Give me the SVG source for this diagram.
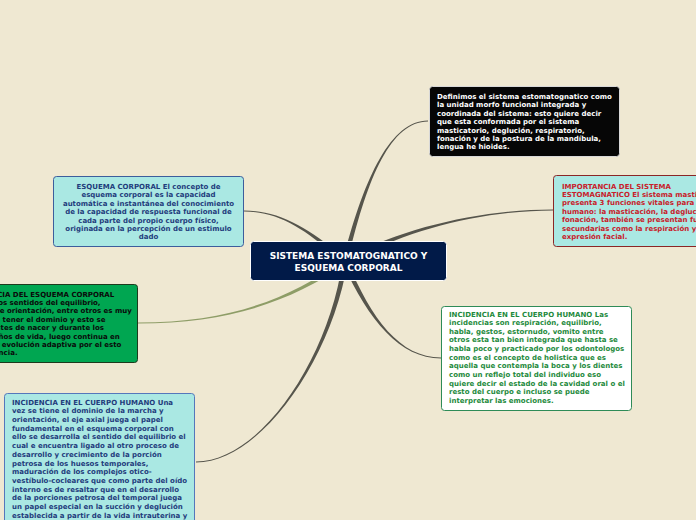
<svg xmlns="http://www.w3.org/2000/svg" width="696" height="520" viewBox="0 0 696 520">
<style>
.t{font-family:"DejaVu Sans",Verdana,sans-serif;font-weight:bold;font-size:7px}
.c{text-anchor:middle}
.con{fill:#56554c}
.cong{fill:#8e9d67}
.cy{fill:#aae8e3}
</style>
<rect x="0" y="0" width="696" height="520" fill="#efe8d2"/>
<g id="connectors">
<path class="con" d="M347.4,262.6 C366.5,180.4 390,121.5 428,121.5 L428,120.5 C390,120.5 363.5,179.6 342.6,261.4 Z"/>
<path class="con" d="M346.7,260.2 C311,228.9 280,210.5 244,210.5 L244,211.5 C280,211.5 309,231.1 343.3,263.8 Z"/>
<path class="con" d="M346.3,264.2 C400.8,231.3 480,210.5 553,210.5 L553,209.5 C480,209.5 399.2,228.7 343.7,259.8 Z"/>
<path class="cong" d="M343.6,259.9 C289.1,298.8 230,322.5 138,322.5 L138,323.5 C230,323.5 290.9,301.2 346.4,264.1 Z"/>
<path class="con" d="M342.5,261.6 C328.5,359.8 260,461.5 196,461.5 L196,462.5 C260,462.5 331.5,360.2 347.5,262.4 Z"/>
<path class="con" d="M342.7,263 C368.6,320.6 400,358.5 441,358.5 L441,357.5 C400,357.5 371.4,319.4 347.3,261 Z"/>
</g>
<g id="center">
<rect x="250.5" y="241.5" width="196" height="39" rx="3" fill="#011a48" stroke="#ffffff" stroke-width="1"/>
<text class="t c" fill="#ffffff" style="font-size:9px"><tspan x="348.5" y="259">SISTEMA ESTOMATOGNATICO Y</tspan><tspan x="348.5" y="270.5">ESQUEMA CORPORAL</tspan></text>
</g>
<g id="definicion">
<rect x="429.5" y="86.5" width="190" height="70" rx="3" fill="#060606" stroke="#d8d8d8" stroke-width="1"/>
<text class="t" fill="#ffffff"><tspan x="437" y="99">Definimos el sistema estomatognatico como</tspan><tspan x="437" dy="8.4">la unidad morfo funcional integrada y</tspan><tspan x="437" dy="8.4">coordinada del sistema: esto quiere decir</tspan><tspan x="437" dy="8.4">que esta conformada por el sistema</tspan><tspan x="437" dy="8.4">masticatorio, deglución, respiratorio,</tspan><tspan x="437" dy="8.4">fonación y de la postura de la mandíbula,</tspan><tspan x="437" dy="8.4">lengua he hioides.</tspan></text>
</g>
<g id="esquema">
<rect x="53.5" y="176.5" width="190" height="70" rx="3" class="cy" stroke="#3d5d9c" stroke-width="1"/>
<text class="t c" fill="#1f3c7c"><tspan x="148.5" y="189">ESQUEMA CORPORAL El concepto de</tspan><tspan x="148.5" dy="8.4">esquema corporal es la capacidad</tspan><tspan x="148.5" dy="8.4">automática e instantánea del conocimiento</tspan><tspan x="148.5" dy="8.4">de la capacidad de respuesta funcional de</tspan><tspan x="148.5" dy="8.4">cada parte del propio cuerpo físico,</tspan><tspan x="148.5" dy="8.4">originada en la percepción de un estimulo</tspan><tspan x="148.5" dy="8.4">dado</tspan></text>
</g>
<g id="importancia-sistema">
<rect x="553.5" y="175.5" width="190" height="71" rx="3" class="cy" stroke="#8b2626" stroke-width="1"/>
<text class="t" fill="#c8202a"><tspan x="562" y="188.5">IMPORTANCIA DEL SISTEMA</tspan><tspan x="562" dy="8.4">ESTOMAGNATICO El sistema masticatorio</tspan><tspan x="562" dy="8.4">presenta 3 funciones vitales para el ser</tspan><tspan x="562" dy="8.4">humano: la masticación, la deglución y la</tspan><tspan x="562" dy="8.4">fonación, también se presentan funciones</tspan><tspan x="562" dy="8.4">secundarias como la respiración y la</tspan><tspan x="562" dy="8.4">expresión facial.</tspan></text>
</g>
<g id="importancia-esquema">
<rect x="-52.5" y="284.5" width="190" height="78" rx="3" fill="#00a651" stroke="#1d3a1d" stroke-width="1"/>
<text class="t" fill="#0a0a0a"><tspan x="-44" y="296.5">IMPORTANCIA DEL ESQUEMA CORPORAL</tspan><tspan x="-46" dy="8.4">Dentro de los sentidos del equilibrio,</tspan><tspan x="-44" dy="8.4">marcha y de orientación, entre otros es muy</tspan><tspan x="-44" dy="8.4">importante tener el dominio y esto se</tspan><tspan x="-44" dy="8.4">se inicia antes de nacer y durante los</tspan><tspan x="-44" dy="8.4">primeros años de vida, luego continua en</tspan><tspan x="-44" dy="8.4">proceso de evolución adaptiva por el esto</tspan><tspan x="-44" dy="8.4">su importancia.</tspan></text>
</g>
<g id="incidencia-cuerpo">
<rect x="441.5" y="306.5" width="190" height="104" rx="3" fill="#ffffff" stroke="#2e8b57" stroke-width="1"/>
<text class="t" fill="#1e8a3c"><tspan x="449" y="316.5">INCIDENCIA EN EL CUERPO HUMANO Las</tspan><tspan x="449" dy="8.65">incidencias son respiración, equilibrio,</tspan><tspan x="449" dy="8.65">habla, gestos, estornudo, vomito entre</tspan><tspan x="449" dy="8.65">otros esta tan bien integrada que hasta se</tspan><tspan x="449" dy="8.65">habla poco y practicado por los odontologos</tspan><tspan x="449" dy="8.65">como es el concepto de holistica que es</tspan><tspan x="449" dy="8.65">aquella que contempla la boca y los dientes</tspan><tspan x="449" dy="8.65">como un reflejo total del individuo eso</tspan><tspan x="449" dy="8.65">quiere decir el estado de la cavidad oral o el</tspan><tspan x="449" dy="8.65">resto del cuerpo e incluso se puede</tspan><tspan x="449" dy="8.65">interpretar las emociones.</tspan></text>
</g>
<g id="incidencia-esquema">
<rect x="4.5" y="393.5" width="190" height="140" rx="3" class="cy" stroke="#5577bb" stroke-width="1"/>
<text class="t" fill="#1f3c7c"><tspan x="12" y="404.5">INCIDENCIA EN EL CUERPO HUMANO  Una</tspan><tspan x="12" dy="8.72">vez se tiene el dominio de la marcha y</tspan><tspan x="12" dy="8.72">orientación, el eje axial juega el papel</tspan><tspan x="12" dy="8.72">fundamental en el esquema corporal con</tspan><tspan x="12" dy="8.72">ello se desarrolla el sentido del equilibrio el</tspan><tspan x="12" dy="8.72">cual e encuentra ligado al otro proceso de</tspan><tspan x="12" dy="8.72">desarrollo y crecimiento de la porción</tspan><tspan x="12" dy="8.72">petrosa de los huesos temporales,</tspan><tspan x="12" dy="8.72">maduración de los complejos otico-</tspan><tspan x="12" dy="8.72">vestíbulo-cocleares que como parte del oído</tspan><tspan x="12" dy="8.72">interno es de resaltar que en el desarrollo</tspan><tspan x="12" dy="8.72">de la porciones petrosa del temporal juega</tspan><tspan x="12" dy="8.72">un papel especial en la succión y deglución</tspan><tspan x="12" dy="8.72">establecida a partir de la vida intrauterina y</tspan><tspan x="12" dy="8.72">la fonación en la formación</tspan></text>
</g>
</svg>
